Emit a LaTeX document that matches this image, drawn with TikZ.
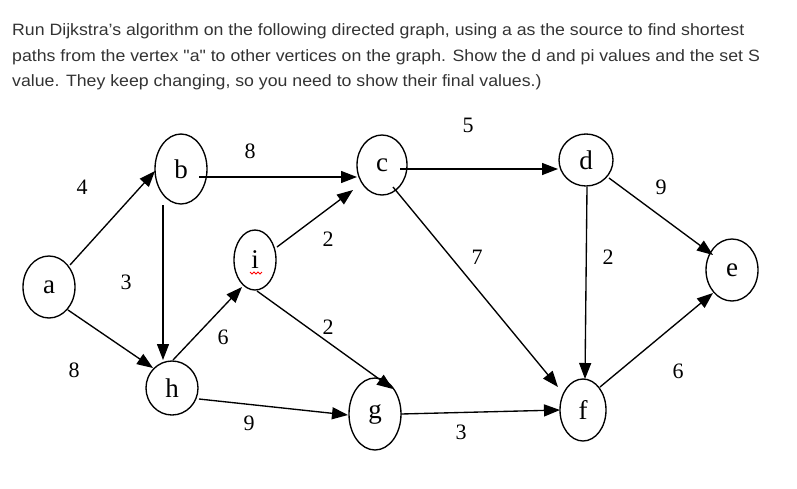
\documentclass[tikz,border=0pt]{standalone}
\usepackage{fontspec}
\setmainfont{Liberation Serif}
\newfontfamily\qfont[FakeStretch=1.08]{Liberation Sans}
\usetikzlibrary{shapes.geometric,arrows.meta}
\definecolor{qtext}{HTML}{333333}
\tikzset{
  vert/.style={draw, ellipse, line width=1.35pt, inner sep=0pt, font=\fontsize{27}{27}\selectfont},
  arr/.style={line width=1.35pt, -{Triangle[length=16pt,width=12pt]}},
  wt/.style={font=\fontsize{22}{22}\selectfont},
  qline/.style={anchor=base west, inner sep=0pt, text=qtext, font=\qfont\fontsize{16.4}{16.4}\selectfont}
}
\begin{document}
\begin{tikzpicture}[x=1pt,y=-1pt]
\useasboundingbox (0,0) rectangle (797,488);
% question text
\node[qline] (q1) at (12,35) {Run Dijkstra’s algorithm on the following directed graph, using a as the source to find shortest};
\node[qline] (q2) at (12,61) {paths from the vertex "a" to other vertices on the graph. Show the d and pi values and the set S};
\node[qline] (q3) at (12,86) {value. They keep changing, so you need to show their final values.)};
% vertices
\node[vert, minimum width=52pt, minimum height=62pt] (a) at (49,287) {a};
\node[vert, minimum width=52pt, minimum height=70pt] (b) at (181,169) {b};
\node[vert, minimum width=50pt, minimum height=60pt] (c) at (382,165) {c};
\node[vert, minimum width=54pt, minimum height=52pt] (d) at (586,160) {d};
\node[vert, minimum width=52pt, minimum height=62pt] (e) at (732,270) {e};
\node[vert, minimum width=46pt, minimum height=62pt] (f) at (583,410) {f};
\node[vert, minimum width=52pt, minimum height=72pt] (g) at (375,414) {g};
\node[vert, minimum width=52pt, minimum height=54pt] (h) at (172,388) {h};
\node[vert, minimum width=42pt, minimum height=60pt] (i) at (255,260) {i};
% spell-check squiggle under i
\draw[red, line width=0.8pt] ([shift={(-5,12)}]i.center) -- ++(2,2) -- ++(2,-2) -- ++(2,2) -- ++(2,-2) -- ++(2,2) -- ++(2,-2);
% edges
\draw[arr] ([shift={(21,-22)}]a.center) -- ([shift={(-26,2)}]b.center);
\draw[arr] ([shift={(19,23)}]a.center) -- ([shift={(-19,-20)}]h.center);
\draw[arr] ([shift={(-18,36)}]b.center) -- ([shift={(-9,-28)}]h.center);
\draw[arr] ([shift={(18,8)}]b.center) -- ([shift={(-25,12)}]c.center);
\draw[arr] ([shift={(1,-28)}]h.center) -- ([shift={(-13,27)}]i.center);
\draw[arr] ([shift={(22,-13)}]i.center) -- ([shift={(-29,25)}]c.center);
\draw[arr] ([shift={(2,31)}]i.center) -- ([shift={(18,-25)}]g.center);
\draw[arr] ([shift={(27,11)}]h.center) -- ([shift={(-27,1)}]g.center);
\draw[arr] ([shift={(18,4)}]c.center) -- ([shift={(-28,9)}]d.center);
\draw[arr] ([shift={(11,22)}]c.center) -- ([shift={(-25,-23)}]f.center);
\draw[arr] ([shift={(1,27)}]d.center) -- ([shift={(2,-31)}]f.center);
\draw[arr] ([shift={(23,18)}]d.center) -- ([shift={(-19,-15)}]e.center);
\draw[arr] ([shift={(26,0)}]g.center) -- ([shift={(-23,0)}]f.center);
\draw[arr] ([shift={(17,-23)}]f.center) -- ([shift={(-19,23)}]e.center);
% weights
\node[wt] (w4) at (82,187) {4};
\node[wt] (w3) at (126,282) {3};
\node[wt] (w8a) at (74,370) {8};
\node[wt] (w8b) at (250,151) {8};
\node[wt] (w2a) at (328,239) {2};
\node[wt] (w6a) at (223,337) {6};
\node[wt] (w2b) at (328,327) {2};
\node[wt] (w9a) at (249,423) {9};
\node[wt] (w5) at (468,125) {5};
\node[wt] (w7) at (477,257) {7};
\node[wt] (w2c) at (608,257) {2};
\node[wt] (w9b) at (661,187) {9};
\node[wt] (w6b) at (678,371) {6};
\node[wt] (w3b) at (461,432) {3};
\end{tikzpicture}
\end{document}
